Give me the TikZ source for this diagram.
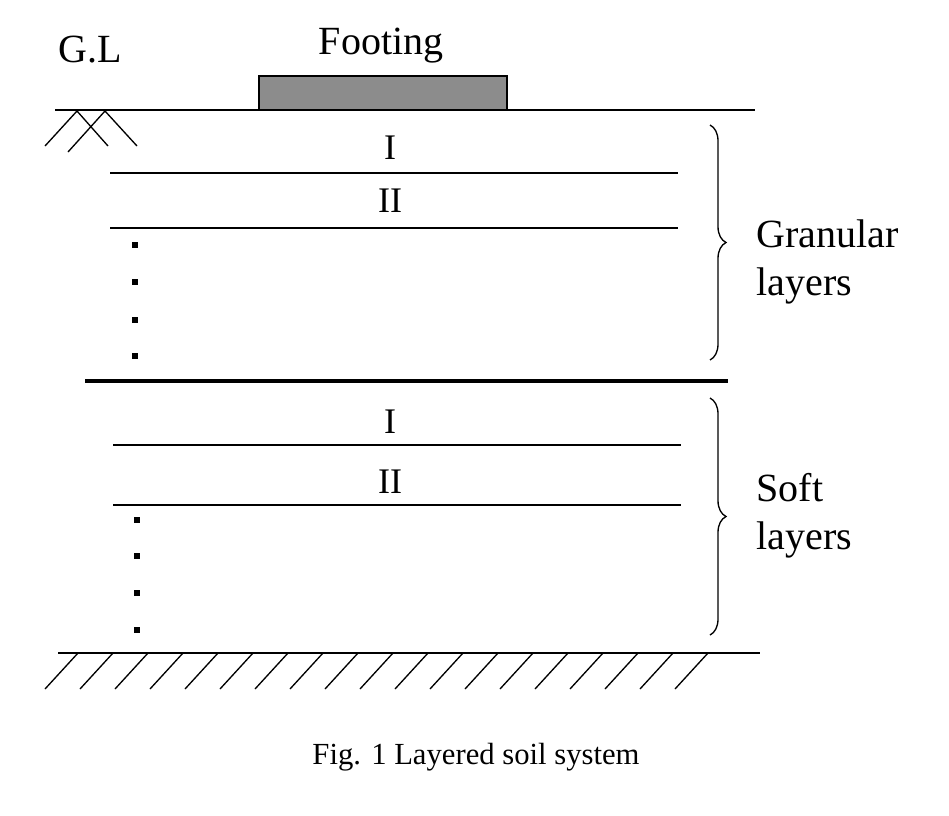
\documentclass[tikz,border=0pt]{standalone}
\usepackage{fontspec}
\setmainfont{Liberation Serif}
\usetikzlibrary{decorations.pathreplacing}
\begin{document}
\begin{tikzpicture}[x=0.75pt,y=-0.75pt,
  lay/.style={line width=1.3pt},
  lbl/.style={font=\fontsize{30}{36}\selectfont},
  rom/.style={font=\fontsize{27}{32}\selectfont},
  dot/.style={fill=black,minimum size=4pt,inner sep=0pt},
  br/.style={decorate,decoration={brace,amplitude=12pt},line width=1pt}]
\useasboundingbox (0,0) rectangle (949,815);
\node[draw,line width=1.3pt,fill=black!45,minimum width=186pt,minimum height=25.5pt,inner sep=0pt] (foot) at (383,93) {};
\node[lbl] (ft) at (381,46) {Footing};
\node[lbl] (gl) at (90,50) {G.L};
\coordinate (g1) at (55,110); \coordinate (g2) at (755,110);
\draw[lay] (g1) -- (g2);
\draw[line width=1pt] (77,111) -- (45,146) (77,111) -- (108,146) (105,111) -- (68,152) (105,111) -- (137,146);
\draw[lay] (110,173) -- (678,173);
\node[rom] (i1) at (390,148) {I};
\draw[lay] (110,228) -- (678,228);
\node[rom] (ii1) at (390,201) {II};
\foreach \y in {245,282,320,356} \node[dot] at (135,\y) {};
\draw[line width=2.4pt] (85,381) -- (728,381);
\draw[lay] (113,445) -- (681,445);
\node[rom] (i2) at (390,422) {I};
\draw[lay] (113,505) -- (681,505);
\node[rom] (ii2) at (390,482) {II};
\foreach \y in {520,556,593,630} \node[dot] at (137,\y) {};
\draw[lay] (58,653) -- (760,653);
\foreach \i in {0,...,18} \draw[line width=1pt] (78+35*\i,653) -- (45+35*\i,689);
\coordinate (b1t) at (710,125); \coordinate (b1b) at (710,360);
\draw[br] (b1t) -- (b1b);
\node[lbl,anchor=west,align=left] (gran) at (752,262) {Granular\\layers};
\coordinate (b2t) at (710,398); \coordinate (b2b) at (710,635);
\draw[br] (b2t) -- (b2b);
\node[lbl,anchor=west,align=left] (soft) at (752,516) {Soft\\layers};
\node[font=\fontsize{23}{28}\selectfont] (cap) at (476,757) {Fig. 1 Layered soil system};
\end{tikzpicture}
\end{document}
